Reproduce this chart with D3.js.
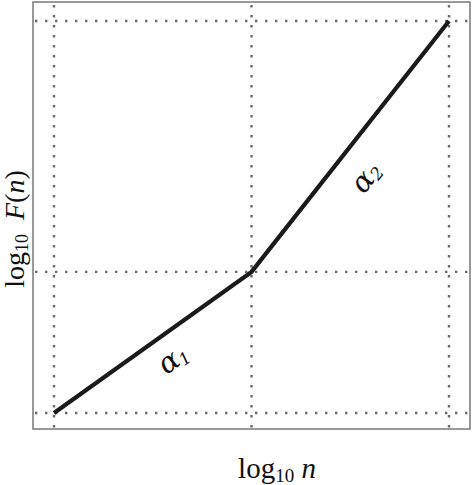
<!DOCTYPE html>
<html><head><meta charset="utf-8">
<script src="https://cdn.jsdelivr.net/npm/d3@7"></script>
<style>body{margin:0;background:#fff}</style>
</head><body>
<script>
// Data
const logN = [1, 2, 3];          // log10 n at start, crossover, end
const logF = [1, 1.72, 3];       // log10 F(n)
const slopeLabels = ["α", "α"];
const slopeSubs = ["1", "2"];

const W = 474, H = 485;
const svg = d3.select("body").append("svg").attr("width", W).attr("height", H);

const x = d3.scaleLinear().domain([1, 3]).range([54, 449]);
const y = d3.scaleLinear().domain([1, 3]).range([413, 21]);
const x0 = x.invert(33), x1 = x.invert(470);
const y0 = y.invert(429), y1 = y.invert(2);

// frame
svg.append("rect")
  .attr("x", x(x0)).attr("y", y(y1))
  .attr("width", x(x1) - x(x0)).attr("height", y(y0) - y(y1))
  .attr("fill", "none").attr("stroke", "#808080").attr("stroke-width", 1.6);

// dotted grid
const g = svg.append("g").attr("stroke", "#6a6a6a").attr("stroke-width", 2.4)
  .attr("stroke-dasharray", "2.4,7.6").attr("fill", "none");
logN.forEach(v => g.append("line").attr("x1", x(v)).attr("x2", x(v))
  .attr("y1", y(y1) + 3).attr("y2", y(y0)));
logF.forEach(v => g.append("line").attr("y1", y(v)).attr("y2", y(v))
  .attr("x1", x(x0) + 2).attr("x2", x(x1)));

// line
const pts = logN.map((v, i) => [v, logF[i]]);
svg.append("path").datum(pts)
  .attr("d", d3.line().x(d => x(d[0])).y(d => y(d[1])))
  .attr("fill", "none").attr("stroke", "#1a1a1a").attr("stroke-width", 4.2)
  .attr("stroke-linejoin", "miter");

// slope labels
const labelPos = [[174, 360], [367, 178]];
for (let i = 0; i < 2; i++) {
  const a = Math.atan2(y(logF[i + 1]) - y(logF[i]), x(logN[i + 1]) - x(logN[i])) * 180 / Math.PI;
  const t = svg.append("text")
    .attr("transform", `translate(${labelPos[i][0]},${labelPos[i][1]}) rotate(${a})`)
    .attr("text-anchor", "middle").attr("dominant-baseline", "middle")
    .attr("font-family", "DejaVu Serif").attr("font-style", "italic")
    .attr("font-size", 29).attr("fill", "#111");
  t.append("tspan").text(slopeLabels[i]);
  t.append("tspan").attr("font-size", 17).attr("dy", 6).text(slopeSubs[i]);
}

// axis labels
const xl = svg.append("text").attr("x", 277).attr("y", 478)
  .attr("text-anchor", "middle").attr("font-family", "Liberation Serif")
  .attr("font-size", 29).attr("fill", "#111");
xl.append("tspan").text("log");
xl.append("tspan").attr("font-size", 19).attr("dy", 4).text("10");
xl.append("tspan").attr("dy", -4).attr("font-style", "italic").text(" n");

const yl = svg.append("text").attr("transform", "translate(24,229) rotate(-90)")
  .attr("text-anchor", "middle").attr("font-family", "Liberation Serif")
  .attr("font-size", 28).attr("fill", "#111");
yl.append("tspan").text("log");
yl.append("tspan").attr("font-size", 18).attr("dy", 4).text("10");
yl.append("tspan").attr("dy", -4).text("\u2002");
yl.append("tspan").attr("font-style", "italic").text("F");
yl.append("tspan").text("(");
yl.append("tspan").attr("font-style", "italic").text("n");
yl.append("tspan").text(")");
</script>
</body></html>
